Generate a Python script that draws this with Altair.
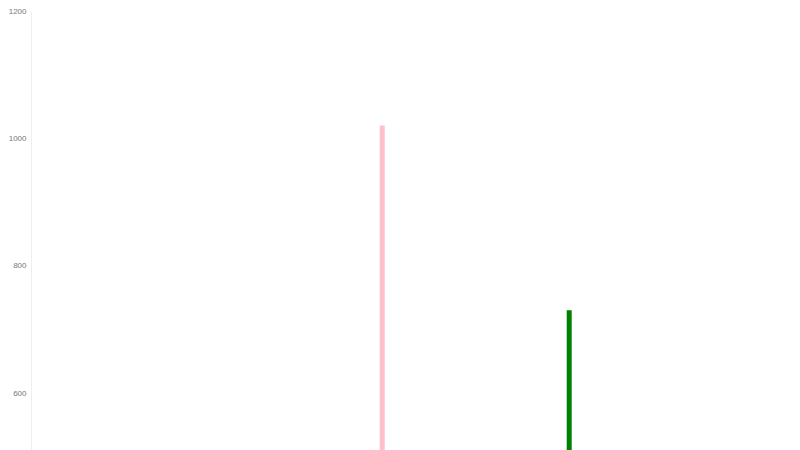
import pandas as pd
import altair as alt

# two visible bars, y values
names = ['pink', 'green']
positions = [4.61, 7.1]
values = [1020, 730]
colors = ['pink', 'green']
y_ticks = [600, 800, 1000, 1200]

data = pd.DataFrame({'name': names, 'pos': positions, 'value': values})

chart = (
    alt.Chart(data)
    .mark_bar(size=5)
    .encode(
        alt.X('pos:Q', scale=alt.Scale(domain=[0, 10], nice=False, zero=True), axis=None),
        alt.Y(
            'value:Q',
            scale=alt.Scale(domain=[0, 1200], nice=False),
            axis=alt.Axis(
                values=y_ticks,
                format='d',
                title=None,
                grid=False,
                ticks=False,
                tickSize=0,
                labelPadding=5,
                labelColor='#777777',
                labelFontSize=8,
                labelFont='Liberation Sans',
                domainColor='#eeeeee',
            ),
        ),
        alt.Color('name:N', scale=alt.Scale(domain=names, range=colors), legend=None),
    )
    .properties(
        width=761,
        height=764,
        autosize=alt.AutoSizeParams(type='none'),
        padding={'top': 3, 'left': 23, 'right': 0, 'bottom': 20},
    )
    .configure_view(stroke=None)
)

chart.save("out.html", embed_options={"renderer": "svg", "actions": False})
